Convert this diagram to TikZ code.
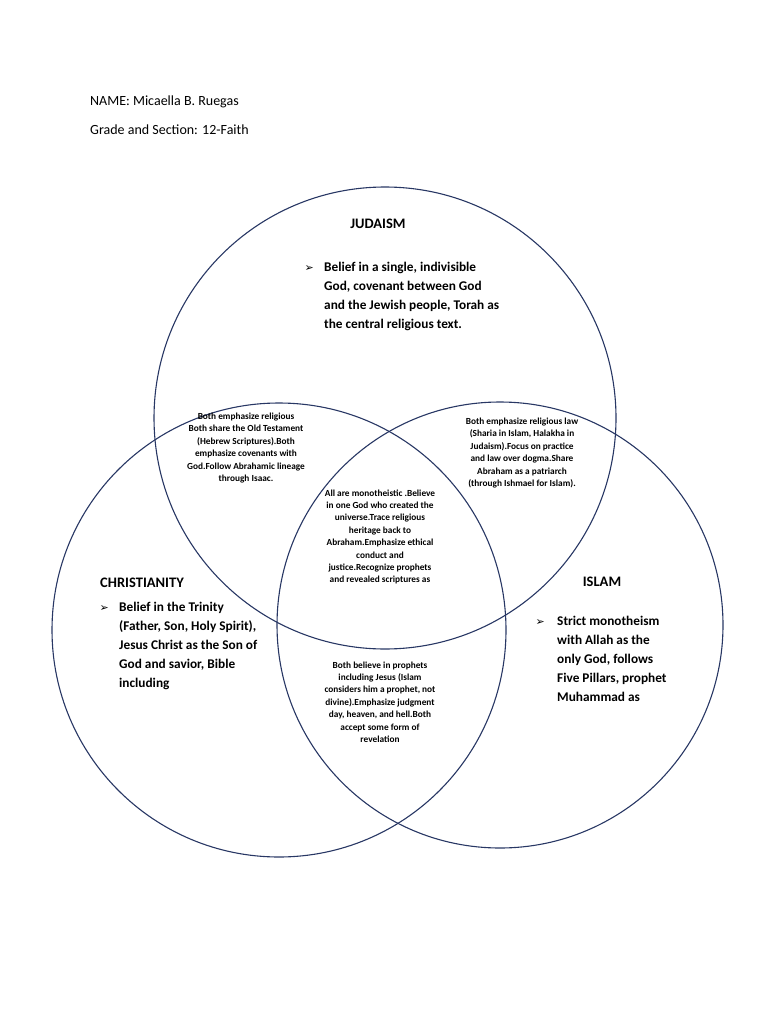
\documentclass[tikz,border=0pt]{standalone}
\usepackage{fontspec}
\setmainfont{Carlito}
\newfontfamily\symfont{DejaVu Sans}
\usetikzlibrary{positioning}
\definecolor{ringblue}{RGB}{40,55,100}
\newcommand{\bul}{{\symfont\fontsize{11}{11}\selectfont ➢}}
\begin{document}
\begin{tikzpicture}[x=1pt, y=-1pt,
    ring/.style={draw=ringblue, line width=1.1pt},
    head/.style={font=\fontsize{14.5}{16}\selectfont\bfseries},
    small/.style={align=flush center, font=\fontsize{9.3}{12.4}\selectfont\bfseries},
    main/.style={align=flush left, font=\fontsize{13.3}{19}\selectfont\bfseries},
    ]
    \useasboundingbox (0,0) rectangle (768,1024);
    % Header lines
    \node[anchor=west, inner sep=0, font=\fontsize{14}{16}\selectfont] (name) at (90,102) {NAME: Micaella B. Ruegas};
    \node[anchor=west, inner sep=0, font=\fontsize{14}{16}\selectfont] (grade) at (90,130) {Grade and Section: 12-Faith};
    % Circles
    \draw[ring] (385,418) circle (231);
    \draw[ring] (279,630) circle (227);
    \draw[ring] (500,625) circle (223);
    % Titles
    \node[head] (jud) at (378,224) {JUDAISM};
    \node[head] (chr) at (142,583) {CHRISTIANITY};
    \node[head] (isl) at (602,582) {ISLAM};
    % Main texts
    \node[main, anchor=north west, inner sep=0, text width=175] (judtext) at (324,262) {Belief in a single, indivisible God, covenant between God and the Jewish people, Torah as the central religious text.};
    \node[anchor=north east, inner sep=0] (b1) at ([xshift=-10,yshift=-3]judtext.north west) {\bul};
    \node[main, anchor=north west, inner sep=0, text width=140] (chrtext) at (119,602) {Belief in the Trinity (Father, Son, Holy Spirit), Jesus Christ as the Son of God and savior, Bible including};
    \node[anchor=north east, inner sep=0] (b2) at ([xshift=-10,yshift=-3]chrtext.north west) {\bul};
    \node[main, anchor=north west, inner sep=0, text width=110] (isltext) at (557,616) {Strict monotheism with Allah as the only God, follows Five Pillars, prophet Muhammad as};
    \node[anchor=north east, inner sep=0] (b3) at ([xshift=-12,yshift=-3]isltext.north west) {\bul};
    % Overlap texts
    \node[small, text width=118] (cj) at (246,448) {Both emphasize religious\\Both share the Old Testament (Hebrew Scriptures).Both emphasize covenants with God.Follow Abrahamic lineage through Isaac.};
    \node[small, text width=118] (ji) at (522,453) {Both emphasize religious law (Sharia in Islam, Halakha in Judaism).Focus on practice and law over dogma.Share Abraham as a patriarch (through Ishmael for Islam).};
    \node[small, text width=112] (all) at (380,537) {All are monotheistic .Believe in one God who created the universe.Trace religious heritage back to Abraham.Emphasize ethical conduct and justice.Recognize prophets and revealed scriptures as};
    \node[small, text width=112] (ci) at (380,702) {Both believe in prophets including Jesus (Islam considers him a prophet, not divine).Emphasize judgment day, heaven, and hell.Both accept some form of revelation};
\end{tikzpicture}
\end{document}
